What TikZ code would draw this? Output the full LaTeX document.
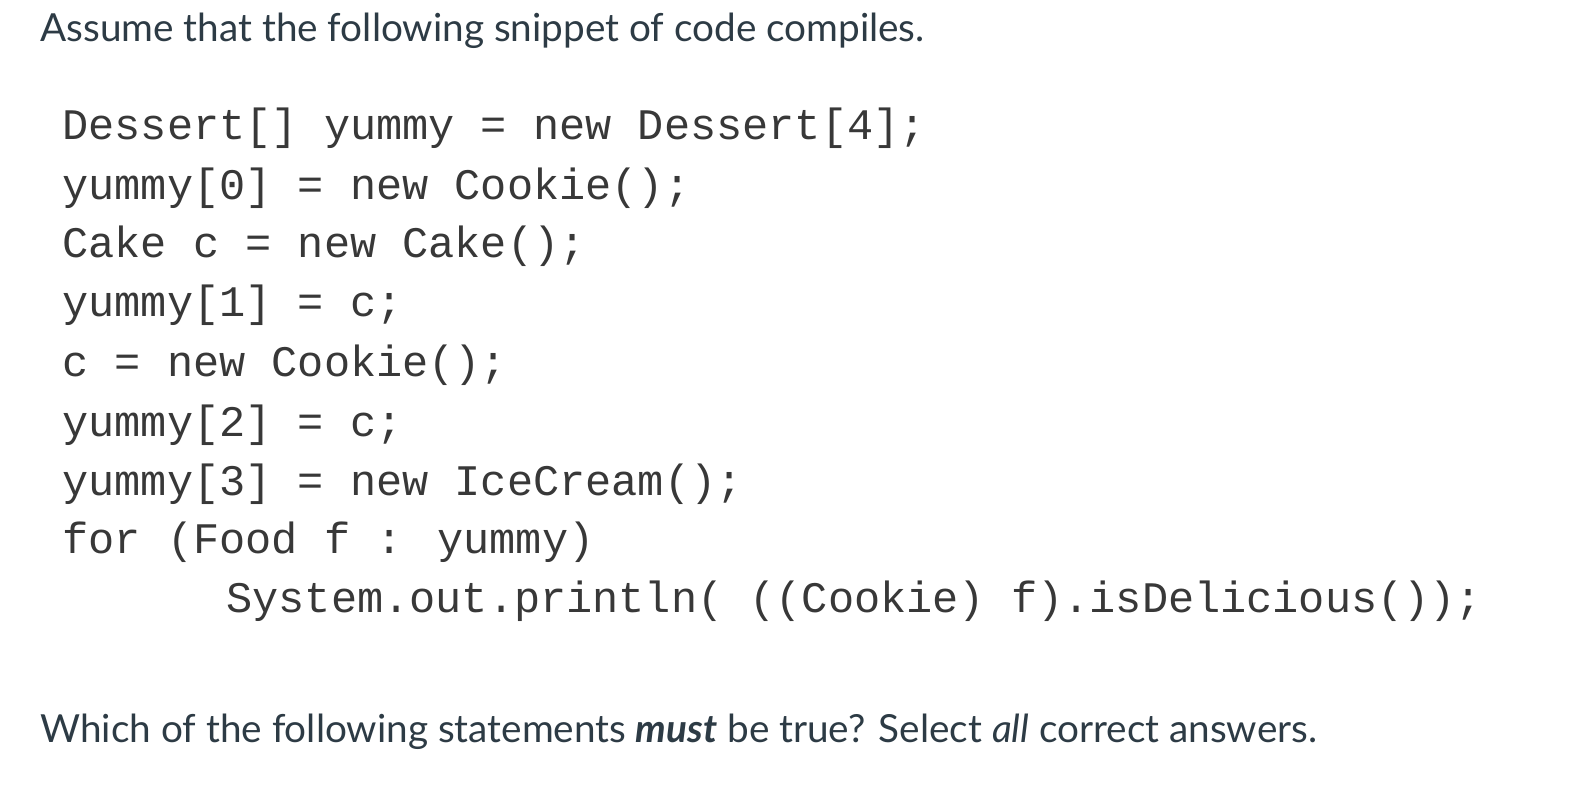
\documentclass[tikz,border=0pt]{standalone}
\usepackage{fontspec}
\setmainfont{Lato}
\newfontfamily\codefont{Liberation Mono}
\definecolor{txt}{HTML}{2D3B45}
\definecolor{code}{HTML}{383838}
\begin{document}
\begin{tikzpicture}[x=0.5pt,y=-0.5pt,
  para/.style={anchor=base west,inner sep=0,text=txt,font=\fontsize{19.35}{21}\selectfont},
  cl/.style={anchor=base west,inner sep=0,text=code,font=\codefont\fontsize{21.8}{24}\selectfont}]
\useasboundingbox[fill=white] (0,0) rectangle (1570,786);
\node[para] (t) at (40,42) {Assume that the following snippet of code compiles.};
\node[cl] (l1) at (62,140) {Dessert[] yummy = new Dessert[4];};
\node[cl] (l2) at (62,200) {yummy[0] = new Cookie();};
\node[cl] (l3) at (62,258) {Cake c = new Cake();};
\node[cl] (l4) at (62,317) {yummy[1] = c;};
\node[cl] (l5) at (62,377) {c = new Cookie();};
\node[cl] (l6) at (62,437) {yummy[2] = c;};
\node[cl] (l7) at (62,495) {yummy[3] = new IceCream();};
\node[cl] (l8) at (62,553) {for (Food f : yummy)};
\node[cl] (l9) at (226,612) {System.out.println( ((Cookie) f).isDelicious());};
\node[para] (q) at (40,742) {Which of the following statements \textbf{\textit{must}} be true? Select \textit{all} correct answers.};
\end{tikzpicture}
\end{document}
